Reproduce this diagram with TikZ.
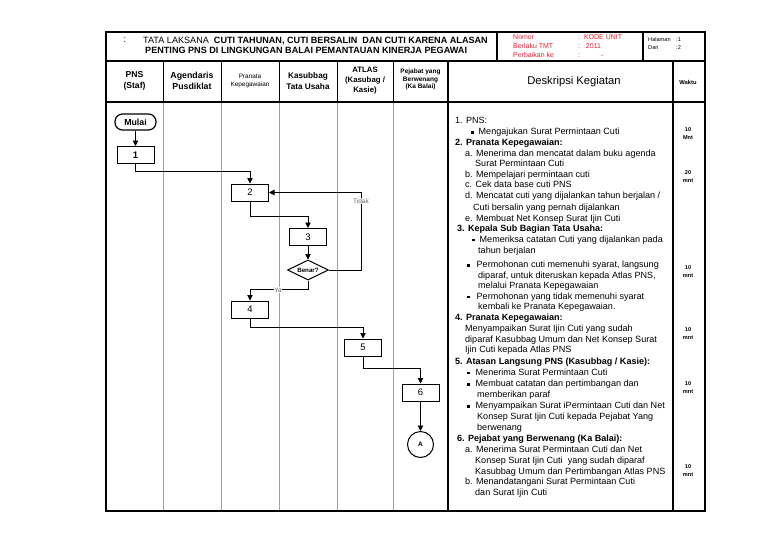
\documentclass[tikz,border=0pt]{standalone}
\usepackage{fontspec}
\setmainfont{Liberation Sans}
\usetikzlibrary{arrows.meta,shapes.geometric}
\definecolor{hred}{RGB}{225,35,45}
\newcommand\fsz[1]{\fontsize{#1}{#1}\selectfont}
\newcommand\fsb[2]{\fontsize{#1}{#2}\selectfont}
\newcommand\dsc[4]{\node[desc] (#1) at (#2,#3) {#4};}
\newcommand\bul{\rule[0.9pt]{2.5pt}{2.5pt}}
\begin{document}
\begin{tikzpicture}[x=1pt,y=-1pt,
  frame/.style={line width=1.6pt},
  cell/.style={line width=1.1pt},
  lane/.style={draw=gray!75, line width=0.7pt},
  colhead/.style={align=center, inner sep=0pt},
  desc/.style={anchor=base west, inner sep=0pt, font=\fsz{9.05}},
  waktu/.style={align=center, font=\bfseries\fsb{5.6}{8}, inner sep=0pt},
  proc/.style={draw, line width=1pt, minimum width=37pt, minimum height=17pt, inner sep=0pt, font=\fsz{9.5}},
  flow/.style={line width=0.9pt, -{Triangle[length=5.5pt,width=5.5pt]}},
  lbl/.style={fill=white, inner sep=0.6pt, text=gray!80!black, font=\fsz{6.5}}
]
\useasboundingbox (0,0) rectangle (768,543);
\fill[white] (0,0) rectangle (768,543);

% lanes
\foreach \x in {163,221,279,337,393} \draw[lane] (\x,102) -- (\x,511);
\draw[cell] (448,61) -- (448,511);
\draw[cell] (673,61) -- (673,511);
% header row
\draw[cell] (497,32) -- (497,61);
\draw[cell] (643,32) -- (643,61);
\foreach \x in {163,221,279,337,393} \draw[line width=0.8pt] (\x,61) -- (\x,102);
\draw[frame] (106,61) -- (705,61);
\draw[frame] (106,102) -- (705,102);
\draw[frame] (106,32) rectangle (705,511);

% title
\node[inner sep=0pt, font=\fsz{9.1}] (colon) at (125,40) {:};
\node[anchor=base west, inner sep=0pt, font=\fsz{9.1}] (t1) at (143,43.5) {TATA LAKSANA\ \ \textbf{CUTI TAHUNAN, CUTI BERSALIN\ \ DAN CUTI KARENA ALASAN}};
\node[anchor=base west, inner sep=0pt, font=\bfseries\fsz{9.1}] (t2) at (145,54) {PENTING PNS DI LINGKUNGAN BALAI PEMANTAUAN KINERJA PEGAWAI};

% red info
\begin{scope}[every node/.style={anchor=base west, inner sep=0pt, text=hred, font=\fsz{7}}]
\node (n1) at (513,39.5) {Nomor};
\node (n2) at (513,48.5) {Berlaku TMT};
\node (n3) at (513,57) {Perbaikan ke};
\node (c1) at (578,39.5) {:\ \ KODE UNIT};
\node (c2) at (578,48.5) {:\ \ \ 2011};
\node (c3) at (578,57) {:};
\node (c4) at (601,57) {-};
\end{scope}
\begin{scope}[every node/.style={anchor=base west, inner sep=0pt, font=\fsz{5.6}}]
\node (h1) at (648,42) {Halaman};
\node (h2) at (648,49) {Dari};
\node (h3) at (676,42) {:1};
\node (h4) at (676,49) {:2};
\end{scope}

% column headers
\node[colhead, font=\bfseries\fsb{8.6}{10.8}] (ch1) at (134.5,81) {PNS\\(Staf)};
\node[colhead, font=\bfseries\fsb{8.8}{10.8}] (ch2) at (192,81) {Agendaris\\Pusdiklat};
\node[colhead, font=\fsb{6.4}{8.5}] (ch3) at (250,81) {Pranata\\Kepegawaian};
\node[colhead, font=\bfseries\fsb{8.2}{10.8}] (ch4) at (308,81) {Kasubbag\\Tata Usaha};
\node[colhead, font=\bfseries\fsb{7.8}{10.3}] (ch5) at (365,80.5) {ATLAS\\(Kasubag /\\Kasie)};
\node[colhead, font=\bfseries\fsb{6.5}{7.8}] (ch6) at (420.5,79.5) {Pejabat yang\\Berwenang\\(Ka Balai)};
\node[inner sep=0pt, font=\fsz{11.2}] (ch7) at (574,82) {Deskripsi Kegiatan};
\node[inner sep=0pt, font=\bfseries\fsz{5.8}] (ch8) at (688,82) {Waktu};

% flowchart
\node[draw, line width=1.2pt, rounded corners=7.5pt, minimum width=41pt, minimum height=16pt, inner sep=0pt, font=\bfseries\fsz{8.8}] (mulai) at (135.5,122) {Mulai};
\node[proc, font=\bfseries\fsz{9.5}] (b1) at (135.5,155) {1};
\node[proc] (b2) at (250,192.5) {2};
\node[proc] (b3) at (308,237) {3};
\node[diamond, draw, line width=1pt, minimum width=41pt, minimum height=20pt, aspect=2, inner sep=0pt, font=\bfseries\fsz{6.2}] (dec) at (308,270) {Benar?};
\node[proc] (b4) at (250,309.5) {4};
\node[proc] (b5) at (363,347.5) {5};
\node[proc] (b6) at (420.5,392.5) {6};
\node[circle, draw, line width=1pt, minimum size=26pt, inner sep=0pt, font=\bfseries\fsz{6.5}] (ca) at (420.5,444.5) {A};

\coordinate (tk) at (361,270);
\draw[flow] (mulai) -- (b1);
\draw[flow] (b1.south) |- ([yshift=12pt]b2.north) -- (b2.north);
\draw[flow] (b2.south) |- ([yshift=12pt]b3.north) -- (b3.north);
\draw[flow] (b3) -- (dec);
\draw[flow] (dec.east) -- (tk) |- (b2.east);
\draw[flow] (dec.south) |- ([yshift=11pt]b4.north) -- (b4.north);
\draw[flow] (b4.south) |- ([yshift=11pt]b5.north) -- (b5.north);
\draw[flow] (b5.south) |- ([yshift=15pt]b6.north) -- (b6.north);
\draw[flow] (b6) -- (ca);
\node[lbl] (tidak) at (361,201) {Tidak};
\node[lbl] (ya) at (278,290) {Ya};

% description
\dsc{d1}{455}{123.5}{1. PNS:}
\dsc{d2}{471}{134.5}{\bul\hspace{5pt}Mengajukan Surat Permintaan Cuti}
\dsc{d3}{455}{145.5}{\bfseries 2. Pranata Kepegawaian:}
\dsc{d4}{465}{156.5}{a. Menerima dan mencatat dalam buku agenda}
\dsc{d5}{475}{166.5}{Surat Permintaan Cuti}
\dsc{d6}{465}{177}{b. Mempelajari permintaan cuti}
\dsc{d7}{465}{187.5}{c. Cek data base cuti PNS}
\dsc{d8}{465}{198.5}{d. Mencatat cuti yang dijalankan tahun berjalan /}
\dsc{d9}{473}{210}{Cuti bersalin yang pernah dijalankan}
\dsc{d10}{465}{221.5}{e. Membuat Net Konsep Surat Ijin Cuti}
\dsc{d11}{457}{231.5}{\bfseries 3. Kepala Sub Bagian Tata Usaha:}
\dsc{d12}{472}{242}{\bul\hspace{5pt}Memeriksa catatan Cuti yang dijalankan pada}
\dsc{d13}{478}{253.5}{tahun berjalan}
\dsc{d14}{467}{267.5}{\bul\hspace{7pt}Permohonan cuti memenuhi syarat, langsung}
\dsc{d15}{478}{278}{diparaf, untuk diteruskan kepada Atlas PNS,}
\dsc{d16}{478}{288.5}{melalui Pranata Kepegawaian}
\dsc{d17}{467}{299}{\bul\hspace{7pt}Permohonan yang tidak memenuhi syarat}
\dsc{d18}{478}{309}{kembali ke Pranata Kepegawaian.}
\dsc{d19}{455}{320.5}{\bfseries 4. Pranata Kepegawaian:}
\dsc{d20}{465}{331.5}{Menyampaikan Surat Ijin Cuti yang sudah}
\dsc{d21}{465}{342}{diparaf Kasubbag Umum dan Net Konsep Surat}
\dsc{d22}{465}{352.5}{Ijin Cuti kepada Atlas PNS}
\dsc{d23}{455}{364.5}{\bfseries 5. Atasan Langsung PNS (Kasubbag / Kasie):}
\dsc{d24}{467}{375}{\bul\hspace{6pt}Menerima Surat Permintaan Cuti}
\dsc{d25}{467}{386.5}{\bul\hspace{6pt}Membuat catatan dan pertimbangan dan}
\dsc{d26}{477}{397.5}{memberikan paraf}
\dsc{d27}{467}{408.5}{\bul\hspace{6pt}Menyampaikan Surat iPermintaan Cuti dan Net}
\dsc{d28}{477}{419}{Konsep Surat Ijin Cuti kepada Pejabat Yang}
\dsc{d29}{477}{430.5}{berwenang}
\dsc{d30}{457}{441.5}{\bfseries 6. Pejabat yang Berwenang (Ka Balai):}
\dsc{d31}{465}{452.5}{a. Menerima Surat Permintaan Cuti dan Net}
\dsc{d32}{475}{463.5}{Konsep Surat Ijin Cuti\ \ yang sudah diparaf}
\dsc{d33}{475}{474}{Kasubbag Umum dan Pertimbangan Atlas PNS}
\dsc{d34}{465}{484.5}{b. Menandatangani Surat Permintaan Cuti}
\dsc{d35}{475}{495.5}{dan Surat Ijin Cuti}

% waktu
\node[waktu] (w1) at (688,134) {10\\Mnt};
\node[waktu] (w2) at (688,177) {20\\mnt};
\node[waktu] (w3) at (688,272) {10\\mnt};
\node[waktu] (w4) at (688,334) {10\\mnt};
\node[waktu] (w5) at (688,388) {10\\mnt};
\node[waktu] (w6) at (688,471) {10\\mnt};
\end{tikzpicture}
\end{document}
